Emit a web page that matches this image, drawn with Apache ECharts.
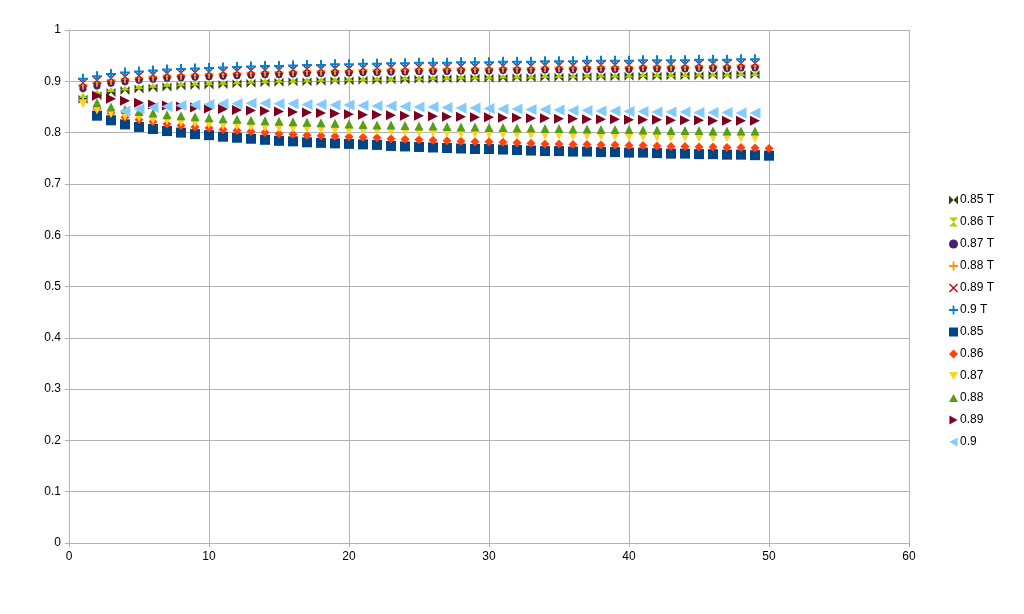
<!DOCTYPE html>
<html>
<head>
<meta charset="utf-8">
<script src="https://cdn.jsdelivr.net/npm/echarts@6/dist/echarts.min.js"></script>
<style>html,body{margin:0;padding:0;background:#fff}#chart{width:1024px;height:614px}</style>
</head>
<body>
<div id="chart"></div>
<script>
// each series: first x value, then y values for consecutive x
const t85Start = 1;
const t85 = [.865,.872,.878,.882,.885,.887,.889,.891,.892,.893,.894,.895,.896,.897,.898,.899,.899,.900,.901,.901,.902,.902,.903,.903,.904,.904,.905,.905,.906,.906,.906,.907,.907,.908,.908,.908,.909,.909,.909,.910,.910,.910,.911,.911,.911,.912,.912,.913,.913];
const t86Start = 1;
const t86 = [.876,.883,.888,.891,.894,.896,.898,.899,.900,.901,.902,.903,.904,.905,.906,.906,.907,.908,.908,.909,.909,.910,.910,.911,.911,.912,.912,.913,.913,.913,.914,.914,.914,.915,.915,.915,.916,.916,.916,.916,.917,.917,.917,.917,.918,.918,.918,.919,.919];
const t87Start = 1;
const t87 = [.886,.891,.896,.899,.902,.904,.906,.907,.908,.909,.910,.911,.912,.913,.913,.914,.915,.915,.916,.916,.917,.917,.918,.918,.919,.919,.919,.920,.920,.920,.921,.921,.921,.922,.922,.922,.923,.923,.923,.923,.924,.924,.924,.924,.925,.925,.925,.926,.926];
const t88Start = 1;
const t88 = [.893,.898,.902,.905,.907,.909,.911,.912,.913,.914,.915,.916,.917,.918,.918,.919,.920,.920,.921,.921,.922,.922,.923,.923,.924,.924,.924,.925,.925,.925,.926,.926,.926,.927,.927,.927,.928,.928,.928,.928,.929,.929,.929,.929,.930,.930,.930,.931,.931];
const t89Start = 1;
const t89 = [.897,.902,.906,.909,.911,.913,.915,.916,.917,.918,.919,.920,.921,.922,.922,.923,.924,.924,.925,.925,.926,.926,.927,.927,.928,.928,.928,.929,.929,.929,.930,.930,.930,.931,.931,.931,.932,.932,.932,.932,.933,.933,.933,.933,.934,.934,.934,.935,.935];
const t90Start = 1;
const t90 = [.905,.910,.914,.917,.919,.921,.923,.924,.925,.926,.927,.928,.929,.930,.930,.931,.932,.932,.933,.933,.934,.934,.935,.935,.936,.936,.936,.937,.937,.937,.938,.938,.938,.939,.939,.939,.940,.940,.940,.940,.941,.941,.941,.941,.942,.942,.942,.943,.943];
const s85Start = 2;
const s85 = [.833,.824,.816,.811,.807,.803,.800,.797,.795,.792,.790,.788,.786,.784,.783,.781,.780,.779,.778,.777,.776,.774,.773,.772,.771,.770,.769,.768,.768,.767,.766,.765,.764,.764,.763,.763,.762,.762,.761,.761,.760,.759,.759,.758,.758,.757,.757,.756,.755];
const s86Start = 2;
const s86 = [.847,.838,.830,.825,.821,.817,.814,.811,.809,.806,.804,.802,.800,.798,.797,.795,.794,.793,.792,.791,.790,.788,.787,.786,.785,.784,.783,.782,.782,.781,.780,.779,.778,.778,.777,.777,.776,.776,.775,.775,.774,.773,.773,.772,.772,.771,.771,.770,.769];
const s87Start = 1;
const s87 = [.856,.844,.837,.832,.829,.825,.823,.820,.818,.816,.814,.813,.812,.810,.809,.808,.807,.806,.805,.804,.804,.803,.802,.801,.800,.800,.799,.798,.798,.797,.797,.796,.796,.795,.795,.794,.794,.793,.793,.792,.792,.791,.791,.791,.790,.790,.790,.789,.789];
const s88Start = 2;
const s88 = [.858,.850,.845,.841,.838,.835,.833,.831,.829,.827,.826,.824,.823,.822,.821,.820,.819,.818,.817,.816,.815,.815,.814,.813,.813,.812,.811,.811,.810,.810,.809,.809,.808,.808,.807,.807,.806,.806,.806,.805,.805,.804,.804,.804,.803,.803,.803,.803];
const s89Start = 2;
const s89 = [.872,.866,.862,.858,.855,.853,.851,.849,.847,.846,.844,.843,.842,.841,.840,.839,.838,.837,.836,.835,.835,.834,.833,.833,.832,.831,.831,.830,.830,.829,.829,.828,.828,.827,.827,.826,.826,.826,.825,.825,.825,.824,.824,.824,.823,.823,.823,.823];
const s90Start = 4;
const s90 = [.842,.846,.849,.851,.853,.854,.855,.856,.856,.857,.857,.856,.856,.855,.855,.854,.854,.853,.852,.852,.851,.850,.850,.849,.848,.848,.847,.846,.846,.845,.845,.844,.843,.843,.842,.842,.841,.841,.840,.840,.840,.839,.839,.839,.838,.838];

const PLUS = 'path://M4,0H6V4H10V6H6V10H4V6H0V4H4Z';
const seriesDefs = [
  { name: '0.85 T', start: t85Start, values: t85, color: '#314004', symbol: 'path://M0,0L5,5L0,10Z M10,0L5,5L10,10Z', size: 9 },
  { name: '0.86 T', start: t86Start, values: t86, color: '#aecf00', symbol: 'path://M0,0L10,0L5,5Z M0,10L10,10L5,5Z', size: 9 },
  { name: '0.87 T', start: t87Start, values: t87, color: '#4b1f6f', symbol: 'circle', size: 7 },
  { name: '0.88 T', start: t88Start, values: t88, color: '#ff950e', symbol: PLUS, size: 9 },
  { name: '0.89 T', start: t89Start, values: t89, color: '#c5000b', symbol: 'path://M1,0L5,4L9,0L10,1L6,5L10,9L9,10L5,6L1,10L0,9L4,5L0,1Z', size: 9 },
  { name: '0.9 T', start: t90Start, values: t90, color: '#0084d1', symbol: PLUS, size: 10 },
  { name: '0.85', start: s85Start, values: s85, color: '#004586', symbol: 'rect', size: 10 },
  { name: '0.86', start: s86Start, values: s86, color: '#ff420e', symbol: 'diamond', size: 9 },
  { name: '0.87', start: s87Start, values: s87, color: '#ffd320', symbol: 'path://M0,0L10,0L5,9Z', size: 9 },
  { name: '0.88', start: s88Start, values: s88, color: '#579d1c', symbol: 'path://M5,0L10,9L0,9Z', size: 9 },
  { name: '0.89', start: s89Start, values: s89, color: '#7e0021', symbol: 'path://M0,0L9,5L0,10Z', size: 10 },
  { name: '0.9', start: s90Start, values: s90, color: '#83caff', symbol: 'path://M9,0L0,5L9,10Z', size: 11 },
];

const chart = echarts.init(document.getElementById('chart'));
const font = 'Liberation Sans';
const option = {
  animation: false,
  textStyle: { fontFamily: font },
  grid: { left: 69, right: 115, top: 30, bottom: 71 },
  xAxis: {
    type: 'value', min: 0, max: 60, interval: 10,
    axisLine: { lineStyle: { color: '#b3b3b3' } },
    axisTick: { show: true, length: 4, lineStyle: { color: '#b3b3b3' } },
    axisLabel: { color: '#000', fontSize: 12, fontFamily: font },
    splitLine: { show: true, lineStyle: { color: '#b3b3b3' } },
  },
  yAxis: {
    type: 'value', min: 0, max: 1, interval: 0.1,
    axisLine: { show: true, lineStyle: { color: '#b3b3b3' } },
    axisTick: { show: true, length: 4, lineStyle: { color: '#b3b3b3' } },
    axisLabel: { color: '#000', fontSize: 12, fontFamily: font },
    splitLine: { show: true, lineStyle: { color: '#b3b3b3' } },
  },
  legend: {
    orient: 'vertical', left: 944, top: 189, itemGap: 10,
    itemWidth: 9, itemHeight: 9,
    textStyle: { color: '#000', fontSize: 12, fontFamily: font, padding: [0, 0, 0, -3] },
    data: seriesDefs.map((d) => ({ name: d.name, icon: d.symbol, itemStyle: { color: d.color } })),
  },
  series: seriesDefs.map((d) => ({
    name: d.name,
    type: 'scatter',
    symbol: d.symbol,
    symbolSize: d.size,
    itemStyle: { color: d.color, opacity: 1 },
    data: d.values.map((v, i) => [d.start + i, v]),
  })),
};
chart.setOption(option);
</script>
</body>
</html>
